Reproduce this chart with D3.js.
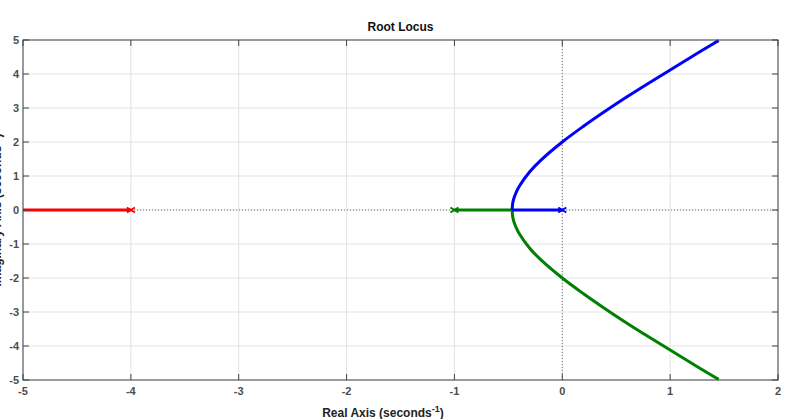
<!DOCTYPE html>
<html><head><meta charset="utf-8">
<script src="https://cdn.jsdelivr.net/npm/d3@7"></script>
<style>body{margin:0;background:#fff}text{font-family:Arial,"Liberation Sans",sans-serif}</style>
</head><body><svg id="c" width="800" height="419"></svg>
<script>
const xTicks=[-5,-4,-3,-2,-1,0,1,2];
const yTicks=[-5,-4,-3,-2,-1,0,1,2,3,4,5];
const redX=[-5,-4], redY=[0,0];
const blueAxisX=[0,-0.465], blueAxisY=[0,0];
const greenAxisX=[-1,-0.465], greenAxisY=[0,0];
const upX=[-0.465,-0.46,-0.45,-0.43,-0.4,-0.3,-0.2,0,0.2,0.4,0.6,0.8,1.0,1.2,1.4,1.45];
const upY=[0,0.19,0.33,0.50,0.69,1.13,1.46,2.0,2.47,2.91,3.33,3.73,4.12,4.51,4.89,4.98];
const loX=[-0.465,-0.46,-0.45,-0.43,-0.4,-0.3,-0.2,0,0.2,0.4,0.6,0.8,1.0,1.2,1.4,1.45];
const loY=[0,-0.19,-0.33,-0.50,-0.69,-1.13,-1.46,-2.0,-2.47,-2.91,-3.33,-3.73,-4.12,-4.51,-4.89,-4.98];
const poles=[-4,-1,0];
const svg=d3.select("#c");
const L=23,R=778,T=40,B=380;
const x=d3.scaleLinear().domain([-5,2]).range([L,R]);
const y=d3.scaleLinear().domain([-5,5]).range([B,T]);
const g=svg.append("g");
g.selectAll(".gx").data(xTicks).join("line").attr("x1",d=>x(d)).attr("x2",d=>x(d)).attr("y1",T).attr("y2",B).attr("stroke","#e3e3e3");
g.selectAll(".gy").data(yTicks).join("line").attr("y1",d=>y(d)).attr("y2",d=>y(d)).attr("x1",L).attr("x2",R).attr("stroke","#e3e3e3");
g.append("line").attr("x1",x(0)).attr("x2",x(0)).attr("y1",T).attr("y2",B).attr("stroke","#777").attr("stroke-dasharray","1,2");
g.append("line").attr("x1",L).attr("x2",R).attr("y1",y(0)).attr("y2",y(0)).attr("stroke","#777").attr("stroke-dasharray","1,2");
const pl=(X,Y,c)=>g.append("path").attr("d",d3.line().x(d=>x(d[0])).y(d=>y(d[1])).curve(d3.curveCatmullRom)(X.map((v,i)=>[v,Y[i]]))).attr("fill","none").attr("stroke",c).attr("stroke-width",3);
pl(redX,redY,"#f00");
pl(greenAxisX,greenAxisY,"#008000");
pl(loX,loY,"#008000");
pl(blueAxisX,blueAxisY,"#0000ff");
pl(upX,upY,"#0000ff");
const pc=["#f00","#008000","#0000ff"];
poles.forEach((p,i)=>{
 g.append("path").attr("d",`M${x(p)-4},${y(0)-2.5}L${x(p)+4},${y(0)+2.5}M${x(p)-4},${y(0)+2.5}L${x(p)+4},${y(0)-2.5}`).attr("stroke",pc[i]).attr("stroke-width",2);
});
g.append("rect").attr("x",L).attr("y",T).attr("width",R-L).attr("height",B-T).attr("fill","none").attr("stroke","#444");
const tc="#444";
xTicks.forEach(d=>{
 g.append("line").attr("x1",x(d)).attr("x2",x(d)).attr("y1",B).attr("y2",B-6).attr("stroke",tc);
 g.append("line").attr("x1",x(d)).attr("x2",x(d)).attr("y1",T).attr("y2",T+6).attr("stroke",tc);
 g.append("text").attr("x",x(d)).attr("y",B+15).attr("text-anchor","middle").attr("font-size",11).attr("font-weight","bold").attr("fill","#4d4d4d").text(d);
});
yTicks.forEach(d=>{
 g.append("line").attr("y1",y(d)).attr("y2",y(d)).attr("x1",L).attr("x2",L+6).attr("stroke",tc);
 g.append("line").attr("y1",y(d)).attr("y2",y(d)).attr("x1",R).attr("x2",R-6).attr("stroke",tc);
 g.append("text").attr("x",L-4).attr("y",y(d)+4).attr("text-anchor","end").attr("font-size",11).attr("font-weight","bold").attr("fill","#4d4d4d").text(d);
});
svg.append("text").attr("x",(L+R)/2).attr("y",31).attr("text-anchor","middle").attr("font-size",12).attr("font-weight","bold").attr("fill","#111").text("Root Locus");
const xl=svg.append("text").attr("x",383).attr("y",417).attr("text-anchor","middle").attr("font-size",12).attr("font-weight","bold").attr("fill","#222");
xl.append("tspan").text("Real Axis (seconds");xl.append("tspan").attr("dy",-5).attr("font-size",9).text("-1");xl.append("tspan").attr("dy",5).text(")");
const yl=svg.append("text").attr("transform",`translate(1,${(T+B)/2}) rotate(-90)`).attr("text-anchor","middle").attr("font-size",12).attr("font-weight","bold").attr("fill","#222");
yl.append("tspan").text("Imaginary Axis (seconds");yl.append("tspan").attr("dy",-5).attr("font-size",9).text("-1");yl.append("tspan").attr("dy",5).text(")");
</script></body></html>
